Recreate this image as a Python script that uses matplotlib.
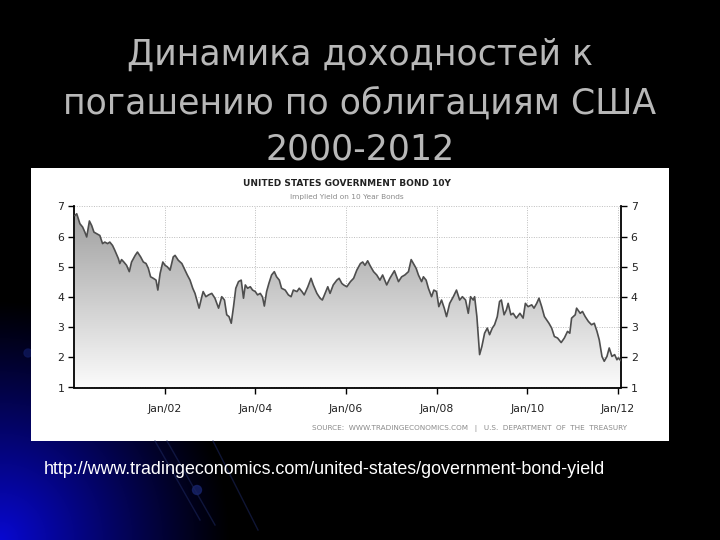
import numpy as np
import matplotlib
matplotlib.use("Agg")
import matplotlib.pyplot as plt
from matplotlib.patches import Rectangle, Polygon, Circle

# ---------------- data ----------------
years = [
    2000.02, 2000.06, 2000.13, 2000.19, 2000.24, 2000.28, 2000.34, 2000.39, 2000.44, 2000.50,
    2000.57, 2000.63, 2000.68, 2000.74, 2000.79, 2000.85, 2000.90, 2000.98, 2001.01, 2001.05,
    2001.10, 2001.16, 2001.22, 2001.27, 2001.35, 2001.40, 2001.47, 2001.53, 2001.59, 2001.64,
    2001.69, 2001.75, 2001.81, 2001.85, 2001.90, 2001.96, 2002.01, 2002.06, 2002.12, 2002.19,
    2002.23, 2002.30, 2002.38, 2002.45, 2002.50, 2002.56, 2002.62, 2002.67, 2002.73, 2002.76,
    2002.82, 2002.85, 2002.91, 2002.97, 2003.04, 2003.11, 2003.19, 2003.26, 2003.32, 2003.37,
    2003.42, 2003.47, 2003.52, 2003.57, 2003.63, 2003.69, 2003.74, 2003.78, 2003.83, 2003.89,
    2003.94, 2004.00, 2004.05, 2004.11, 2004.16, 2004.20, 2004.25, 2004.30, 2004.36, 2004.42,
    2004.47, 2004.53, 2004.58, 2004.66, 2004.73, 2004.79, 2004.84, 2004.92, 2004.97, 2005.03,
    2005.08, 2005.16, 2005.23, 2005.28, 2005.36, 2005.43, 2005.48, 2005.54, 2005.60, 2005.65,
    2005.72, 2005.80, 2005.85, 2005.91, 2005.95, 2006.02, 2006.10, 2006.17, 2006.24, 2006.32,
    2006.37, 2006.42, 2006.48, 2006.53, 2006.61, 2006.68, 2006.75, 2006.81, 2006.90, 2006.97,
    2007.07, 2007.16, 2007.23, 2007.30, 2007.38, 2007.44, 2007.49, 2007.55, 2007.60, 2007.67,
    2007.71, 2007.77, 2007.82, 2007.89, 2007.94, 2008.00, 2008.05, 2008.11, 2008.17, 2008.22,
    2008.29, 2008.37, 2008.44, 2008.51, 2008.57, 2008.64, 2008.70, 2008.75, 2008.81, 2008.84,
    2008.89, 2008.95, 2009.00, 2009.06, 2009.12, 2009.17, 2009.23, 2009.28, 2009.34, 2009.39,
    2009.43, 2009.49, 2009.54, 2009.58, 2009.64, 2009.69, 2009.76, 2009.84, 2009.91, 2009.96,
    2010.02, 2010.10, 2010.15, 2010.21, 2010.26, 2010.32, 2010.38, 2010.43, 2010.48, 2010.54,
    2010.60, 2010.67, 2010.75, 2010.82, 2010.89, 2010.94, 2010.98, 2011.06, 2011.09, 2011.17,
    2011.22, 2011.28, 2011.35, 2011.42, 2011.48, 2011.54, 2011.59, 2011.65, 2011.70, 2011.76,
    2011.81, 2011.87, 2011.93, 2011.98, 2012.01, 2012.06,
]
yields = [
    6.70, 6.76, 6.43, 6.32, 6.15, 5.99, 6.52, 6.37, 6.15, 6.10,
    6.04, 5.77, 5.82, 5.77, 5.82, 5.71, 5.55, 5.27, 5.11, 5.24,
    5.16, 5.05, 4.84, 5.16, 5.38, 5.49, 5.33, 5.16, 5.11, 4.95,
    4.67, 4.62, 4.56, 4.23, 4.78, 5.16, 5.05, 5.00, 4.89, 5.33,
    5.38, 5.22, 5.11, 4.89, 4.73, 4.56, 4.29, 4.12, 3.79, 3.63,
    4.01, 4.18, 4.01, 4.07, 4.12, 3.96, 3.63, 4.01, 3.90, 3.41,
    3.35, 3.13, 3.68, 4.29, 4.51, 4.56, 3.96, 4.40, 4.29, 4.34,
    4.23, 4.18, 4.07, 4.12, 4.00, 3.70, 4.18, 4.45, 4.73, 4.84,
    4.67, 4.56, 4.29, 4.23, 4.07, 4.01, 4.23, 4.18, 4.29, 4.18,
    4.07, 4.34, 4.62, 4.40, 4.12, 3.96, 3.90, 4.12, 4.34, 4.12,
    4.40, 4.56, 4.62, 4.45, 4.40, 4.34, 4.51, 4.62, 4.89, 5.11,
    5.16, 5.05, 5.20, 5.05, 4.84, 4.73, 4.56, 4.73, 4.40, 4.62,
    4.87, 4.51, 4.67, 4.73, 4.84, 5.24, 5.11, 4.95, 4.73, 4.51,
    4.67, 4.56, 4.29, 4.01, 4.23, 4.18, 3.68, 3.90, 3.63, 3.35,
    3.79, 4.01, 4.23, 3.90, 4.01, 3.90, 3.46, 4.01, 3.90, 4.01,
    3.35, 2.09, 2.36, 2.80, 2.97, 2.75, 2.97, 3.08, 3.35, 3.85,
    3.90, 3.41, 3.57, 3.79, 3.41, 3.46, 3.30, 3.46, 3.30, 3.79,
    3.68, 3.74, 3.63, 3.79, 3.96, 3.68, 3.35, 3.24, 3.13, 2.97,
    2.69, 2.64, 2.49, 2.64, 2.86, 2.80, 3.30, 3.41, 3.63, 3.46,
    3.52, 3.35, 3.19, 3.08, 3.13, 2.86, 2.58, 2.03, 1.87, 2.03,
    2.31, 2.03, 2.09, 1.92, 1.98, 1.90,
]
x_ticks = [2002, 2004, 2006, 2008, 2010, 2012]
x_labels = ["Jan/02", "Jan/04", "Jan/06", "Jan/08", "Jan/10", "Jan/12"]
y_ticks = [1, 2, 3, 4, 5, 6, 7]

slide_title = ["Динамика доходностей к", "погашению по облигациям США", "2000-2012"]
chart_title = "UNITED STATES GOVERNMENT BOND 10Y"
chart_subtitle = "Implied Yield on 10 Year Bonds"
source_text = "SOURCE:  WWW.TRADINGECONOMICS.COM   |   U.S.  DEPARTMENT  OF  THE  TREASURY"
url_text = "http://www.tradingeconomics.com/united-states/government-bond-yield"

# ---------------- figure ----------------
W, H = 720, 540
fig = plt.figure(figsize=(7.2, 5.4), dpi=100)
fig.patch.set_facecolor("black")

bg = fig.add_axes([0, 0, 1, 1])
bg.axis("off")
yy, xx = np.mgrid[0:H, 0:W]
d = np.sqrt((xx / 230.0) ** 2 + ((H - yy) / 240.0) ** 2)
b = np.clip(1 - d, 0, 1) ** 1.1
img = np.zeros((H, W, 3))
img[..., 0] = 0.03 * b
img[..., 1] = 0.03 * b
img[..., 2] = 0.82 * b
bg.imshow(img, extent=[0, W, H, 0], aspect="auto", interpolation="bilinear")
bg.set_xlim(0, W)
bg.set_ylim(H, 0)
# faint decorative streaks and dots of the slide template
for (xa, ya, xb, yb) in [(155, 441, 200, 520), (167, 441, 215, 525), (213, 441, 258, 530)]:
    bg.plot([xa, xb], [ya, yb], color="#1c2760", lw=1.0, alpha=0.55)
bg.add_patch(Circle((197, 490), 4.5, color="#17236a", alpha=0.8))
bg.add_patch(Circle((28, 353), 4, color="#0e175a", alpha=0.8))
bg.add_patch(Rectangle((31, 168), 638, 273, facecolor="white", edgecolor="none"))

# slide title
for txt, yc in zip(slide_title, [55, 104, 150]):
    fig.text(0.5, 1 - yc / H, txt, ha="center", va="center", color="#b8b8b8",
             fontsize=25, family="DejaVu Sans")

fig.text(347 / W, 1 - 183 / H, chart_title, ha="center", va="center",
         fontsize=6.5, fontweight="bold", color="#222222", family="DejaVu Sans")
fig.text(347 / W, 1 - 197 / H, chart_subtitle, ha="center", va="center",
         fontsize=5.3, color="#8a8a8a", family="DejaVu Sans")
fig.text(627 / W, 1 - 428 / H, source_text, ha="right", va="center",
         fontsize=5.2, color="#8a8a8a", family="DejaVu Sans")
fig.text(44 / W, 1 - 470 / H, url_text, ha="left", va="center",
         fontsize=12.9, color="white", family="Liberation Sans")

# ---------------- chart ----------------
ax = fig.add_axes([74 / W, 1 - 387.5 / H, 547 / W, 181 / H])
ax.set_facecolor("white")
x0, x1 = 2000.0, 2012.07
ax.set_xlim(x0, x1)
ax.set_ylim(1, 7)

grad = np.linspace(0, 1, 256).reshape(-1, 1)
cmap = matplotlib.colors.LinearSegmentedColormap.from_list("g", ["#fbfbfb", "#9c9c9c"])
im = ax.imshow(grad, extent=[x0, x1, 1, 7], origin="lower", aspect="auto",
               cmap=cmap, zorder=1)
poly_xy = [(years[0], 1)] + list(zip(years, yields)) + [(years[-1], 1)]
poly = Polygon(poly_xy, closed=True, transform=ax.transData, facecolor="none", edgecolor="none")
ax.add_patch(poly)
im.set_clip_path(poly)

ax.plot(years, yields, color="#4e4e4e", lw=1.2, zorder=3)

ax.set_xticks(x_ticks)
ax.set_xticklabels(x_labels)
ax.set_yticks(y_ticks)
ax.grid(True, color="#bdbdbd", linestyle=(0, (1, 1.5)), lw=0.7, zorder=0)
ax.set_axisbelow(True)

ax.spines["top"].set_visible(False)
for s in ["left", "right", "bottom"]:
    ax.spines[s].set_color("black")
    ax.spines[s].set_linewidth(1.3)
ax.tick_params(axis="y", which="both", left=True, right=True, labelleft=True, labelright=True,
               direction="out", length=4, width=1, colors="black", labelsize=7.8, pad=3,
               labelcolor="#222222")
ax.tick_params(axis="x", direction="out", length=4, width=1, colors="black", labelsize=7.8,
               pad=8, labelcolor="#222222")

fig.savefig("out.png", dpi=100, facecolor=fig.get_facecolor())
